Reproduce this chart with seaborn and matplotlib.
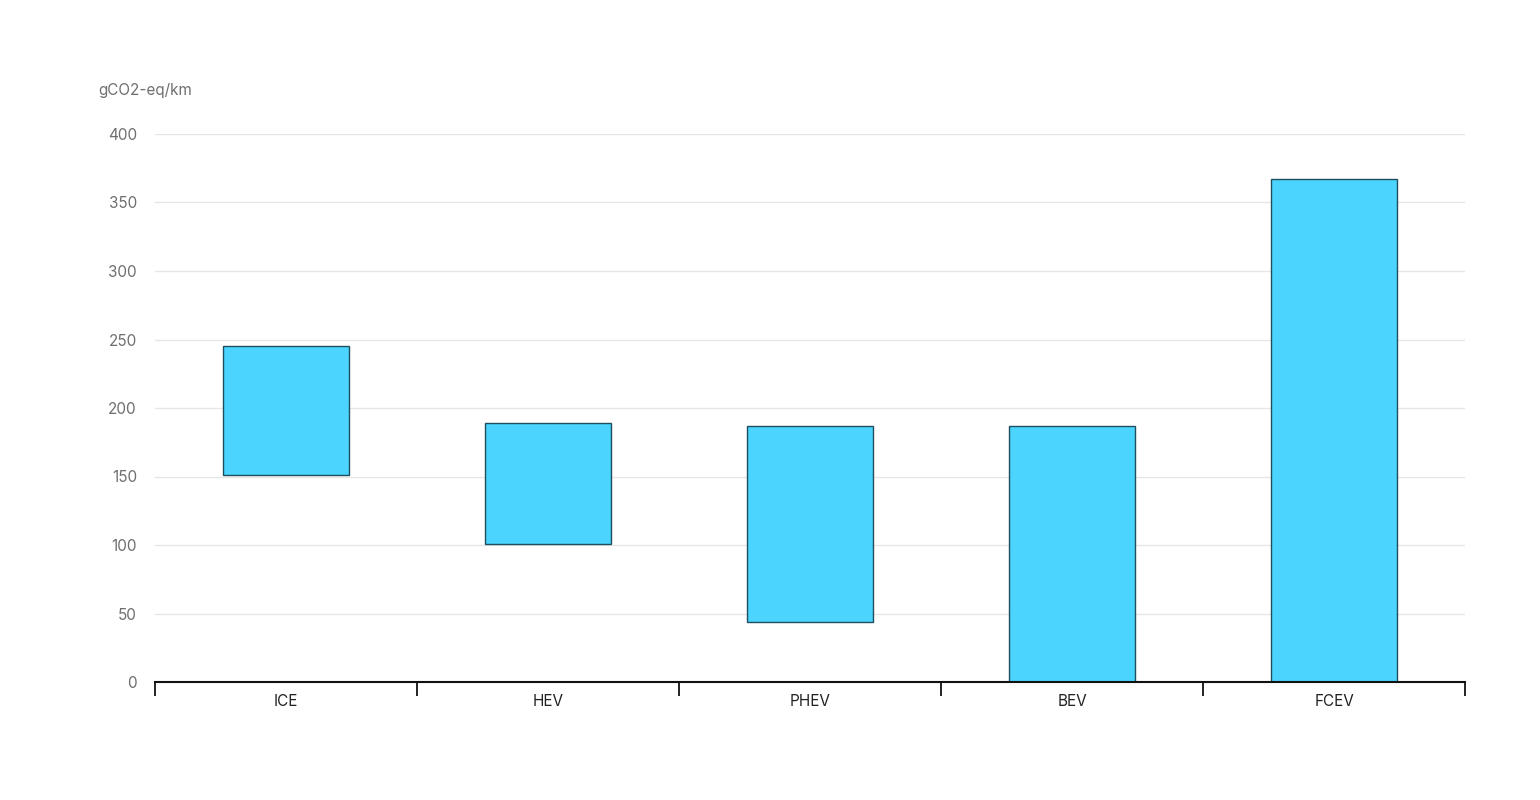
import numpy as np
import pandas as pd
import seaborn as sns
import matplotlib.pyplot as plt

# dati (gCO2-eq/km, intervallo min-max per tipo di veicolo)
vehicles = ["ICE", "HEV", "PHEV", "BEV", "FCEV"]
low_vals = [151, 101, 44, 0, 0]
high_vals = [245, 189, 187, 187, 367]
y_ticks = [0, 50, 100, 150, 200, 250, 300, 350, 400]

df = pd.DataFrame({"vehicle": vehicles, "low": low_vals, "high": high_vals})
df["span"] = df["high"] - df["low"]

sns.set_style("white")
plt.rcParams["font.family"] = ["Inter", "DejaVu Sans"]

fig = plt.figure(figsize=(15.4, 8), dpi=100)
ax = fig.add_axes([155 / 1540, 1 - 682 / 800, 1310 / 1540, 548 / 800])

sns.barplot(data=df, x="vehicle", y="span", color="#4AD4FE", saturation=1,
            width=0.48, edgecolor="#1f4f5e", linewidth=1, ax=ax)
# barre flottanti: sposto la base di ogni barra al valore minimo
for patch, lo in zip(ax.patches, df["low"]):
    patch.set_y(lo)

ax.set_ylim(0, 400)
ax.set_xlim(-0.5, len(vehicles) - 0.5)
ax.set_yticks(y_ticks)
ax.set_yticklabels([str(v) for v in y_ticks], color="#6f6f6f", fontsize=11)
ax.tick_params(axis="y", length=0, pad=13)
ax.yaxis.grid(True, color="#e6e6e6", linewidth=1)
ax.set_axisbelow(True)

# tacche tra le categorie, etichette al centro
ax.set_xticks(np.arange(len(vehicles) + 1) - 0.5)
ax.set_xticklabels([])
ax.set_xticks(np.arange(len(vehicles)), minor=True)
ax.set_xticklabels(vehicles, minor=True, color="#222222", fontsize=11)
ax.tick_params(axis="x", which="major", bottom=True, length=10, width=1.3,
               color="#111111", direction="out")
ax.tick_params(axis="x", which="minor", bottom=True, length=0, pad=9)

for s in ["top", "right", "left"]:
    ax.spines[s].set_visible(False)
ax.spines["bottom"].set_color("#111111")
ax.spines["bottom"].set_linewidth(1.5)
ax.set_xlabel("")
ax.set_ylabel("")

fig.text(98 / 1540, 1 - 90 / 800, "gCO2-eq/km", color="#6f6f6f", fontsize=11,
         ha="left", va="center")

fig.savefig("out.png", dpi=100)
